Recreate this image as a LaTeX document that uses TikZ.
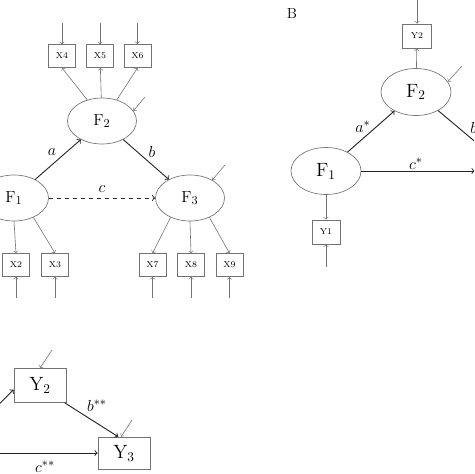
\documentclass[tikz,border=0pt]{standalone}
\usetikzlibrary{shapes.geometric}
\begin{document}
\begin{tikzpicture}[x=0.75pt,y=-0.75pt]
\tikzset{
  lat/.style={ellipse,draw=black!55,line width=0.5pt,minimum width=51.75pt,minimum height=34.5pt,inner sep=0pt,font=\fontsize{13}{15}\selectfont},
  latb/.style={lat,minimum width=52.5pt,minimum height=35.25pt,font=\fontsize{14}{16}\selectfont},
  obs/.style={draw=black!55,line width=0.5pt,minimum width=20.25pt,minimum height=17.25pt,inner sep=0pt,font=\fontsize{6.5}{7}\selectfont},
  obsc/.style={obs,minimum width=39pt,minimum height=25.5pt,font=\fontsize{14}{16}\selectfont},
  err/.style={->,draw=black!55,line width=0.45pt},
  reg/.style={->,draw=black!85,line width=0.7pt},
  lbl/.style={inner sep=0pt,font=\fontsize{13}{15}\selectfont}
}
\useasboundingbox (0,0) rectangle (474,474);
\clip (0,0) rectangle (474,474);
% panel A
\node[lat] (F1) at (14,198) {$\mathrm{F}_1$};
\node[lat] (F2) at (102,121) {$\mathrm{F}_2$};
\node[lat] (F3) at (190,198) {$\mathrm{F}_3$};
\node[obs] (X4) at (62,56) {X4};
\node[obs] (X5) at (100,56) {X5};
\node[obs] (X6) at (137.5,56) {X6};
\node[obs] (X2) at (16,265) {X2};
\node[obs] (X3) at (55,265) {X3};
\node[obs] (X7) at (152.5,265) {X7};
\node[obs] (X8) at (191,265) {X8};
\node[obs] (X9) at (229.5,265) {X9};
\draw[reg] (F1) -- (F2);
\draw[reg] (F2) -- (F3);
\draw[reg,dashed] (F1) -- (F3);
\node[lbl] (la) at (52,152) {$a$};
\node[lbl] (lb) at (152,152) {$b$};
\node[lbl] (lc) at (102,189) {$c$};
\draw[err] (F2.125) -- (X4.south);
\draw[err] (F2) -- (X5);
\draw[err] (F2.55) -- (X6.south);
\draw[err] (F1.south) -- (X2.north);
\draw[err] (F1.-45) -- (X3.north);
\draw[err] (F3.-135) -- (X7.north);
\draw[err] (F3.south) -- (X8.north);
\draw[err] (F3.-45) -- (X9.north);
\foreach \n in {X4,X5,X6}
  \draw[err] (\n.north) ++(0,-21) -- (\n.north);
\foreach \n in {X2,X3,X7,X8,X9}
  \draw[err] (\n.south) ++(0,21) -- (\n.south);
\coordinate (eF2) at (145,97);
\coordinate (eF3) at (225,165);
\draw[err] (eF2) -- (F2.18);
\draw[err] (eF3) -- (F3.39);
% panel B
\node[font=\fontsize{11}{13}\selectfont] (B) at (292,13) {B};
\node[latb] (F1b) at (326,171) {$\mathrm{F}_1$};
\node[latb] (F2b) at (416,92) {$\mathrm{F}_2$};
\node[latb] (F3b) at (510,171) {};
\node[obs,minimum width=22pt,minimum height=18pt] (Y2b) at (417,36) {Y2};
\node[obs,minimum width=21pt,minimum height=18pt] (Y1b) at (326,232) {Y1};
\draw[reg] (F1b) -- (F2b);
\draw[reg] (F2b) -- (F3b);
\draw[reg] (F1b) -- (F3b);
\node[lbl] (las) at (363,127) {$a^{*}$};
\node[lbl,anchor=west] (lbs) at (470,128) {$b^{*}$};
\node[lbl] (lcs) at (416,164) {$c^{*}$};
\draw[err] (F2b) -- (Y2b);
\draw[err] (F1b) -- (Y1b);
\draw[err] (Y2b.north) ++(0,-30) -- (Y2b.north);
\draw[err] (Y1b.south) ++(0,23) -- (Y1b.south);
\coordinate (eF2b) at (462,66);
\draw[err] (eF2b) -- (F2b.18);
% panel C
\node[obsc] (Y1c) at (-46,440) {};
\node[obsc] (Y2c) at (40,385.5) {$\mathrm{Y}_2$};
\node[obsc,minimum height=24pt] (Y3c) at (124,453) {$\mathrm{Y}_3$};
\draw[reg] (Y1c.north east) -- (Y2c.189);
\draw[reg] (Y2c.-35) -- (Y3c.110);
\draw[reg] (Y3c.west -| Y1c.east) -- (Y3c.west);
\node[lbl] (lbss) at (97,406) {$b^{**}$};
\node[lbl] (lcss) at (45,467) {$c^{**}$};
\coordinate (eY2c) at (52,350);
\coordinate (eY3c) at (132,420);
\draw[err] (eY2c) -- (Y2c.north);
\draw[err] (eY3c) -- (Y3c.100);
\end{tikzpicture}
\end{document}
